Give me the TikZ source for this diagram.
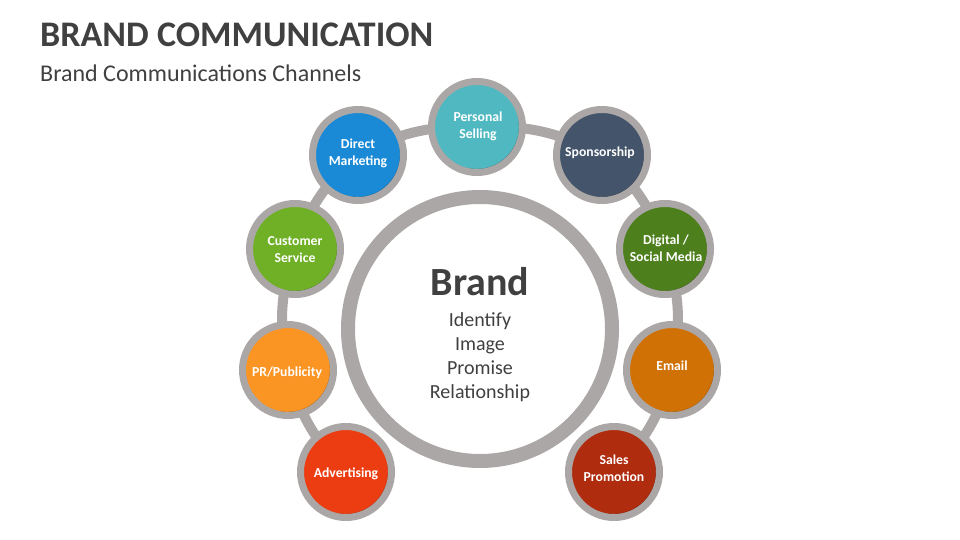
\documentclass[tikz,border=0pt]{standalone}
\usepackage{fontspec}
\setmainfont{Carlito}
\usetikzlibrary{backgrounds}
\definecolor{ringgray}{HTML}{ABA7A6}
\definecolor{textgray}{HTML}{404040}
\definecolor{cteal}{HTML}{4FB8C1}
\definecolor{cnavy}{HTML}{44546A}
\definecolor{cleaf}{HTML}{4E7F1D}
\definecolor{camber}{HTML}{D07106}
\definecolor{cbrick}{HTML}{B02C0E}
\definecolor{cflame}{HTML}{EC3D12}
\definecolor{corange}{HTML}{FA9423}
\definecolor{cgreen}{HTML}{6FB026}
\definecolor{cblue}{HTML}{1A8AD6}
\tikzset{
  channel/.style={circle, draw=ringgray, line width=7pt, minimum size=91pt, inner sep=0pt,
    fill=#1!72!black,
    path picture={\fill[#1] ([shift={(-0.8pt,0.8pt)}]path picture bounding box.center) circle (42.6pt);}},
  chlabel/.style={align=center, text=white, inner sep=0pt, font=\fontsize{13.7}{17}\selectfont\bfseries},
  link/.style={draw=ringgray, line width=10pt},
  brandline/.style={anchor=base, text=textgray, font=\fontsize{20}{24}\selectfont, inner sep=0pt}
}
\begin{document}
\begin{tikzpicture}[x=1pt, y=-1pt]
    \path[use as bounding box] (0,0) rectangle (960,540);

    % Titolo
    \node[anchor=west, inner sep=0pt, text=textgray, font=\fontsize{36}{43}\selectfont\bfseries] (title) at (40,35) {BRAND COMMUNICATION};
    \node[anchor=west, inner sep=0pt, text=textgray, font=\fontsize{24}{29}\selectfont] (subtitle) at (40,73) {Brand Communications Channels};

    % Cerchio centrale
    \node[circle, draw=ringgray, line width=14pt, minimum size=264pt] (brand) at (480,329) {};
    \node[text=textgray, inner sep=0pt, font=\fontsize{40}{48}\selectfont\bfseries] (brandname) at (480,282) {Brand};
    \node[brandline] (identify) at (480,326) {Identify};
    \node[brandline] (image) at (480,350) {Image};
    \node[brandline] (promise) at (480,374) {Promise};
    \node[brandline] (relationship) at (480,398) {Relationship};

    % Canali
    \foreach \name/\pos/\col/\lab/\txt in {
        personal/{(477,127)}/cteal/{(478,126)}/{Personal\\Selling},
        sponsor/{(602,155)}/cnavy/{(600,153)}/{Sponsorship},
        digital/{(665,249)}/cleaf/{(666,248)}/{Digital /\\Social Media},
        email/{(672,370)}/camber/{(672,366)}/{Email},
        sales/{(614,472)}/cbrick/{(614,468)}/{Sales\\Promotion},
        advert/{(346,472)}/cflame/{(346,474)}/{Advertising},
        publicity/{(288,370)}/corange/{(287,373)}/{PR/Publicity},
        customer/{(295,249)}/cgreen/{(295,250)}/{Customer\\Service},
        direct/{(358,155)}/cblue/{(358,153)}/{Direct\\Marketing}}
    {
        \node[channel=\col] (\name) at \pos {};
        \node[chlabel] (\name label) at \lab {\txt};
    }

    % Collegamenti
    \begin{scope}[on background layer]
        \draw[link] (direct.center) to[bend left=15] (personal.center);
        \draw[link] (personal.center) to[bend left=15] (sponsor.center);
        \draw[link] (sponsor.center) to[bend left=15] (digital.center);
        \draw[link] (digital.center) to[bend left=15] (email.center);
        \draw[link] (email.center) to[bend left=15] (sales.center);
        \draw[link] (customer.center) to[bend left=15] (direct.center);
        \draw[link] (publicity.center) to[bend left=15] (customer.center);
        \draw[link] (advert.center) to[bend left=15] (publicity.center);
    \end{scope}
\end{tikzpicture}
\end{document}
